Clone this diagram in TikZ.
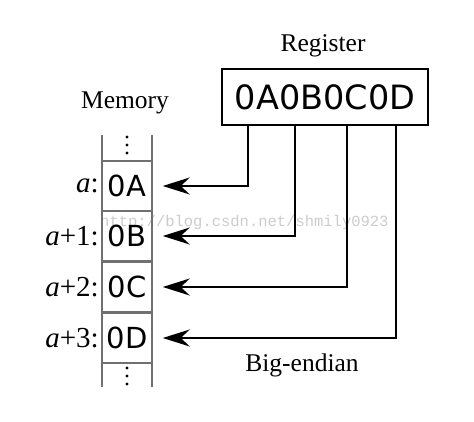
\documentclass[tikz,border=0pt]{standalone}
\usepackage{fontspec}
\setmainfont{Liberation Serif}
\newfontfamily\sansf{DejaVu Sans}
\newfontfamily\monof{Liberation Mono}
\usetikzlibrary{arrows.meta,calc}
\definecolor{colgray}{HTML}{707070}
\tikzset{
  cellbox/.style={draw=colgray, line width=1.5pt, minimum width=50pt, minimum height=50pt, inner sep=0pt, font=\sansf\fontsize{29}{32}\selectfont},
  lbl/.style={anchor=east, inner sep=0pt, font=\fontsize{29}{32}\selectfont},
  ttl/.style={inner sep=0pt, font=\fontsize{25.5}{28}\selectfont},
  regbox/.style={draw, line width=1.8pt, minimum width=206pt, minimum height=56pt, inner sep=0pt, font=\sansf\fontsize{33.5}{36}\selectfont},
  arr/.style={line width=1.8pt, -{Stealth[length=27pt,width=17pt,inset=9pt]}},
  dotc/.style={circle, fill=black, inner sep=0pt, minimum size=3.2pt},
}
\begin{document}
\begin{tikzpicture}[x=1pt,y=-1pt]
\useasboundingbox (0,0) rectangle (474,422);
% watermark (behind everything)
\node[anchor=base west, inner sep=0pt, text=black!20, font=\monof\fontsize{15.5}{17}\selectfont] (wm) at (100,227) {http://blog.csdn.net/shmily0923};
% memory column
\node[cellbox] (cA) at (127,186) {0A};
\node[cellbox] (cB) at (127,236) {0B};
\node[cellbox] (cC) at (127,287) {0C};
\node[cellbox] (cD) at (127,338) {0D};
\coordinate (topL) at (102,135);
\coordinate (topR) at (152,135);
\coordinate (botL) at (102,387);
\coordinate (botR) at (152,387);
\draw[colgray, line width=1.5pt] (topL) -- (botL);
\draw[colgray, line width=1.5pt] (topR) -- (botR);
% dots
\node[dotc] (d1) at (127,137) {};
\node[dotc] (d2) at (127,145) {};
\node[dotc] (d3) at (127,153) {};
\node[dotc] (d4) at (127,368) {};
\node[dotc] (d5) at (127,376) {};
\node[dotc] (d6) at (127,384) {};
% labels
\node[lbl] (lA) at (99,186) {\textit{a}:};
\node[lbl] (lB) at (99,236) {\textit{a}+1:};
\node[lbl] (lC) at (99,287) {\textit{a}+2:};
\node[lbl] (lD) at (99,338) {\textit{a}+3:};
\node[ttl] (mem) at (125,103) {Memory};
% register
\node[regbox] (reg) at (325,97) {0A0B0C0D};
\node[ttl] (regt) at (323,46) {Register};
\node[ttl] (be) at (302,365) {Big-endian};
% arrows
\draw[arr] ($(reg.south west)+(27,0)$) |- ([xshift=10pt]cA.east);
\draw[arr] ($(reg.south west)+(74,0)$) |- ([xshift=10pt]cB.east);
\draw[arr] ($(reg.south west)+(126,0)$) |- ([xshift=10pt]cC.east);
\draw[arr] ($(reg.south west)+(175,0)$) |- ([xshift=10pt]cD.east);
\end{tikzpicture}
\end{document}
